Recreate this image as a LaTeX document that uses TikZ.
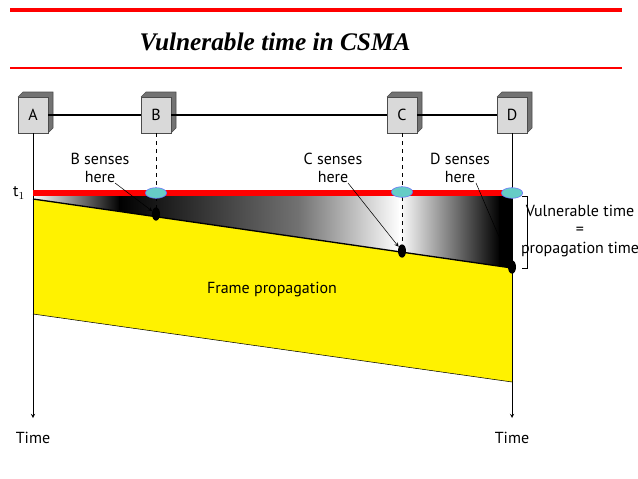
\documentclass[tikz,border=0pt]{standalone}
\usepackage{fontspec}
\usetikzlibrary{shapes.geometric}
\setmainfont{Liberation Serif}
\newfontfamily\lab{PT Sans}
\begin{document}
\begin{tikzpicture}[x=0.75pt,y=-0.75pt,
  stn/.style={draw=black!70,fill=black!15,minimum width=22.5pt,minimum height=27pt,inner sep=0pt,font=\lab\fontsize{12}{12}\selectfont},
  lbl/.style={font=\lab\fontsize{12}{13}\selectfont,align=center},
  dot/.style={fill=black,ellipse,minimum width=6pt,minimum height=10pt,inner sep=0pt},
  cy/.style={fill=cyan!60!green!60,draw=blue!60,ellipse,minimum width=16pt,minimum height=8pt,inner sep=0pt}]
\useasboundingbox (0,0) rectangle (638,478);
\draw[red,line width=3pt] (10,10) -- (622,10);
\draw[red,line width=0.8pt] (10,68) -- (622,68);
\node[font=\fontsize{19}{20}\selectfont\bfseries\itshape] (title) at (275,42) {Vulnerable time in CSMA};
% shaded region
\begin{scope}
\clip (33,196) -- (512,196) -- (512,268) -- (33,199) -- cycle;
\shade[left color=white,right color=black] (33,190) rectangle (120,270);
\shade[left color=black,right color=black!55] (119,190) rectangle (300,270);
\shade[left color=black!55,right color=white] (299,190) rectangle (400,270);
\shade[left color=white,right color=black] (399,190) rectangle (500,270);
\fill[black] (499,190) rectangle (512,270);
\end{scope}
\fill[yellow] (33,199) -- (512,268) -- (512,382) -- (33,314) -- cycle;
\draw[line width=1pt] (33,199) -- (512,268);
\draw (33,314) -- (512,382);
% stations
\foreach \n/\x in {A/33,B/156,C/402,D/512}{
  \fill[black!55] (\x-15+5,97-5) -- (\x+15+5,97-5) -- (\x+15+5,133-5) -- (\x+15,133) -- (\x+15,97) -- (\x-15,97) -- cycle;
  \draw[black!70] (\x-15,97) -- (\x-15+5,97-5) -- (\x+15+5,97-5) -- (\x+15+5,133-5) -- (\x+15,133);
  \node[stn] (\n) at (\x,115) {\n};
}
\draw[line width=1.8pt] (A) -- (B) (B) -- (C) (C) -- (D);
\coordinate (At) at (33,418); \coordinate (Dt) at (512,418);
\draw[-stealth] (A.south) -- (At);
\draw[-stealth] (D.south) -- (Dt);
\draw[dashed] (B.south) -- (156,214);
\draw[dashed] (C.south) -- (402,251);
\draw[red,line width=4pt] (33,193) -- (512,193);
\node[cy] (eb) at (156,193) {};
\node[cy] (ec) at (402,192) {};
\node[cy] (ed) at (512,193) {};
\node[dot] (db) at (156,214) {};
\node[dot] (dc) at (402,251) {};
\node[dot] (dd) at (512,267) {};
\node[lbl] (tb) at (100,168) {B senses\\here};
\node[lbl] (tc) at (333,168) {C senses\\here};
\node[lbl] (td) at (460,168) {D senses\\here};
\draw[-stealth,thin] (115,183) -- (db);
\draw[-stealth,thin] (348,183) -- (dc);
\draw[-stealth,thin] (476,183) -- (dd);
\node[lbl] (t1) at (19,193) {t$_1$};
\draw (522,196) -- (527,196) -- (527,268) -- (522,268);
\node[lbl,font=\lab\fontsize{12}{14}\selectfont] (vt) at (580,231) {Vulnerable time\\=\\propagation time};
\node[lbl] (fp) at (272,290) {Frame propagation};
\node[lbl] (time1) at (33,438) {Time};
\node[lbl] (time2) at (512,438) {Time};
\end{tikzpicture}
\end{document}
